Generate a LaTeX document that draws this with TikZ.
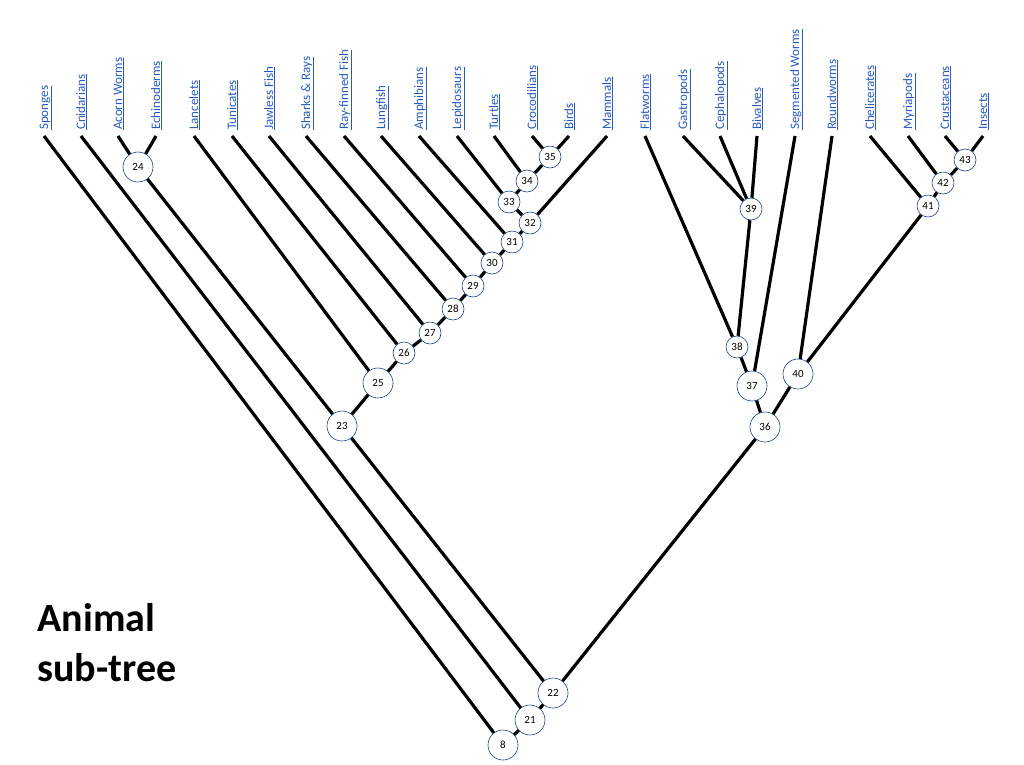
\documentclass[tikz,border=0pt]{standalone}
\usepackage{fontspec}
\setmainfont{Carlito}
\usetikzlibrary{positioning}
\definecolor{linkblue}{RGB}{40,90,190}
\tikzset{
branch/.style={line width=3.2pt, black},
clade/.style={circle, draw=linkblue!70!black, fill=white, line width=0.6pt, minimum size=30pt, inner sep=0pt, font=\fontsize{11}{11}\selectfont},
small clade/.style={clade, minimum size=22pt},
taxon/.style={rotate=90, anchor=base west, inner sep=0pt, text=linkblue, font=\fontsize{13}{13}\selectfont},
}
\begin{document}
\begin{tikzpicture}[x=1pt,y=-1pt]
\useasboundingbox (0,0) rectangle (1024,764);
% taxon labels and their branch tops
\foreach \name/\lab/\x in {sp/Sponges/44, cn/Cnidarians/81, aw/Acorn Worms/118, ec/Echinoderms/156,
  la/Lancelets/194, tu/Tunicates/232, jf/Jawless Fish/269, sr/Sharks \& Rays/306,
  rf/Ray-finned Fish/344, lu/Lungfish/381, am/Amphibians/419, le/Lepidosaurs/457,
  tr/Turtles/494, cr/Crocodilians/532, bi/Birds/569, ma/Mammals/607,
  fw/Flatworms/645, ga/Gastropods/683, ce/Cephalopods/720, bv/Bivalves/757,
  sw/Segmented Worms/795, rw/Roundworms/832, ch/Chelicerates/870, my/Myriapods/908,
  cu/Crustaceans/945, in/Insects/983}{
  \node[taxon] (l\name) at (\x+4,130) {\underline{\lab}};
  \coordinate (t\name) at (\x,136);
}
% internal nodes
\node[clade] (n8) at (503,745) {8};
\node[clade] (n21) at (530,720) {21};
\node[clade] (n22) at (553,693) {22};
\node[clade] (n23) at (342,426) {23};
\node[clade] (n24) at (138,167) {24};
\node[clade] (n25) at (378,383) {25};
\node[small clade] (n26) at (404,353) {26};
\node[small clade] (n27) at (430,333) {27};
\node[small clade] (n28) at (453,309) {28};
\node[small clade] (n29) at (473,286) {29};
\node[small clade] (n30) at (492,263) {30};
\node[small clade] (n31) at (512,242) {31};
\node[small clade] (n32) at (530,223) {32};
\node[small clade] (n33) at (509,202) {33};
\node[small clade] (n34) at (527,181) {34};
\node[small clade] (n35) at (550,157) {35};
\node[clade] (n36) at (765,427) {36};
\node[clade] (n37) at (752,386) {37};
\node[small clade] (n38) at (737,347) {38};
\node[small clade] (n39) at (751,209) {39};
\node[clade] (n40) at (798,374) {40};
\node[small clade] (n41) at (928,206) {41};
\node[small clade] (n42) at (943,183) {42};
\node[small clade] (n43) at (965,160) {43};
% branches
\begin{scope}[on background layer/.try]
\foreach \a/\b in {tsp/n8, tcn/n21, taw/n24, tec/n24, tla/n25, ttu/n26, tjf/n27, tsr/n28,
  trf/n29, tlu/n30, tam/n31, tle/n33, ttr/n34, tcr/n35, tbi/n35, tma/n32,
  n35/n34, n34/n33, n33/n32, n32/n31, n31/n30, n30/n29, n29/n28, n28/n27, n27/n26, n26/n25,
  n25/n23, n24/n23, n23/n22, n22/n21, n21/n8,
  tfw/n38, tga/n39, tce/n39, tbv/n39, n39/n38, n38/n37, tsw/n37, n37/n36,
  trw/n40, n40/n36, tch/n41, tmy/n42, tcu/n43, tin/n43, n43/n42, n42/n41, n41/n40, n36/n22}
  \draw[branch] (\a) -- (\b);
\end{scope}
\node[anchor=north west, align=left, font=\bfseries\fontsize{40}{50}\selectfont] (title) at (34,600) {Animal\\sub-tree};
\end{tikzpicture}
\end{document}
